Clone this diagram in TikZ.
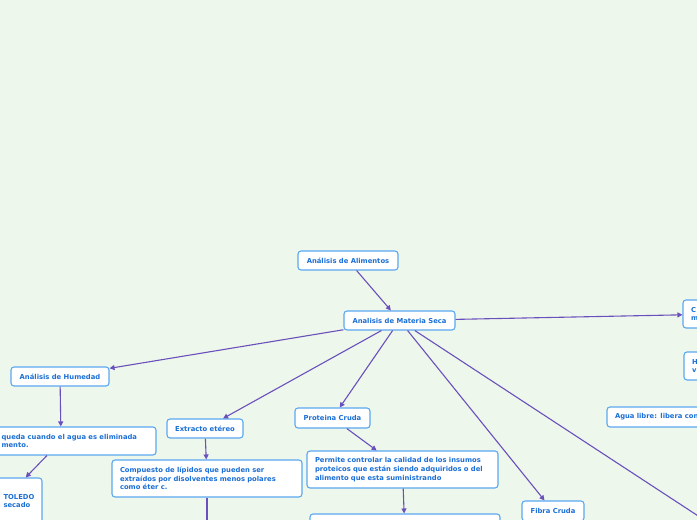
\documentclass[tikz,border=0pt]{standalone}
\usepackage{fontspec}
\usetikzlibrary{arrows.meta}
\newfontfamily\mapfont{DejaVu Sans}
\definecolor{mapbg}{HTML}{EEF7EB}
\definecolor{boxline}{HTML}{5AA8F0}
\definecolor{boxtext}{HTML}{1B6FD6}
\definecolor{linkline}{HTML}{6A50BC}
\begin{document}
\begin{tikzpicture}[x=1pt,y=-1pt,->,>={Triangle[length=5pt,width=5pt]},draw=linkline,line width=1.1pt]
  \tikzstyle{topic}=[draw=boxline,fill=white,rounded corners=3pt,line width=1.1pt,text=boxtext,font=\mapfont\bfseries\fontsize{6.8}{8.7}\selectfont,inner xsep=8pt,inner ysep=0pt,align=left]
  \tikzstyle{words}=[text=boxtext,font=\mapfont\bfseries\fontsize{6.8}{8.7}\selectfont,inner sep=0pt,align=left]
  \useasboundingbox (0,0) rectangle (697,520);
  \clip (0,0) rectangle (697,520);
  \path[fill=mapbg] (0,0) rectangle (697,520);

  \node[topic,minimum width=100pt,minimum height=19pt] (A_1) at (348,260.5) {Análisis de Alimentos};
  \node[topic,minimum width=111pt,minimum height=19pt] (A_2) at (399.5,320.5) {Analisis de Materia Seca};

  \node[topic,minimum width=98pt,minimum height=19pt] (H_1) at (60,376.5) {Análisis de Humedad};
  \node[topic,minimum width=190pt,minimum height=28pt] (H_2) at (61,441) {};
  \node[words,anchor=west] (H_2t) at (1,441) {queda cuando el agua es eliminada\\mento.};
  \node[topic,minimum width=84pt,minimum height=52pt] (H_3) at (0,504) {};
  \node[words,anchor=west] (H_3t) at (3,501) {TOLEDO\\secado};

  \node[topic,minimum width=76pt,minimum height=19pt] (E_1) at (205,428.5) {Extracto etéreo};
  \node[topic,text width=174pt,minimum height=37pt] (E_2) at (207,478.5) {Compuesto de lípidos que pueden ser\\extraídos por disolventes menos polares\\como éter c.};
  \coordinate (E_3) at (207,560);

  \node[topic,minimum width=75pt,minimum height=20pt] (P_1) at (332.5,418) {Proteina Cruda};
  \node[topic,text width=175pt,minimum height=37pt] (P_2) at (402.5,469.5) {Permite controlar la calidad de los insumos\\proteicos que están siendo adquiridos o del\\alimento que esta suministrando};
  \node[topic,minimum width=190pt,minimum height=46pt] (P_3) at (405,537) {};

  \node[topic,minimum width=62pt,minimum height=20pt] (F_1) at (553,511) {Fibra Cruda};

  \node[topic,text width=64pt,minimum height=28pt] (C_1) at (723,314) {C\\m};
  \node[topic,text width=64pt,minimum height=28pt] (C_2) at (724,366) {H\\v};
  \node[topic,text width=184pt,minimum height=20pt] (C_3) at (707,417) {Agua libre: libera con};
  \coordinate (X_1) at (739.5,543);

  \draw (A_1) -- (A_2);
  \draw (A_2) -- (C_1);
  \draw (A_2) -- (H_1);
  \draw (A_2) -- (E_1);
  \draw (A_2) -- (P_1);
  \draw (A_2) -- (F_1);
  \draw (A_2) -- (X_1);
  \draw (H_1) -- (H_2);
  \draw (H_2) -- (H_3);
  \draw (E_1) -- (E_2);
  \draw[-] (E_2) -- (E_3);
  \draw (P_1) -- (P_2);
  \draw (P_2) -- (P_3);
\end{tikzpicture}
\end{document}
